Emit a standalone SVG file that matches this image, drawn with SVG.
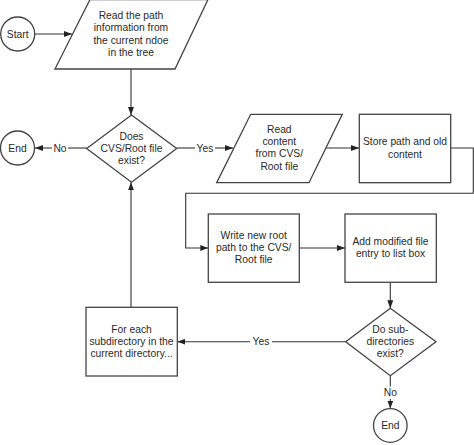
<svg xmlns="http://www.w3.org/2000/svg" width="474" height="445" viewBox="0 0 474 445">
<defs>
<marker id="arr" viewBox="0 0 8 6" refX="8" refY="3" markerWidth="8" markerHeight="6" markerUnits="userSpaceOnUse" orient="auto">
<path d="M0,0 L8,3 L0,6 Z" fill="#222"/>
</marker>
</defs>
<style>
.sh{fill:#fff;stroke:#444;stroke-width:1.3}
.ln{fill:none;stroke:#333;stroke-width:1.1}
text{font-family:"Liberation Sans",Arial,sans-serif;font-size:10.3px;fill:#2a2a2a;text-anchor:middle}
</style>
<rect width="474" height="445" fill="#fff"/>
<g id="connectors">
<path class="ln" d="M35,34 H72" marker-end="url(#arr)"/>
<path class="ln" d="M131,69 V115" marker-end="url(#arr)"/>
<path class="ln" d="M86.7,148 H68"/>
<path class="ln" d="M52,148 H35" marker-end="url(#arr)"/>
<path class="ln" d="M176.7,148 H195"/>
<path class="ln" d="M215,148 H233" marker-end="url(#arr)"/>
<path class="ln" d="M325.5,148 H359" marker-end="url(#arr)"/>
<path class="ln" d="M450.7,148 H473.3 V193.3 H185.7 V248 H208.3" marker-end="url(#arr)"/>
<path class="ln" d="M299.3,248 H345" marker-end="url(#arr)"/>
<path class="ln" d="M390.3,282.3 V308.3" marker-end="url(#arr)"/>
<path class="ln" d="M345.7,341.7 H272"/>
<path class="ln" d="M250,341.7 H177.3" marker-end="url(#arr)"/>
<path class="ln" d="M131,307.3 V182.3" marker-end="url(#arr)"/>
<path class="ln" d="M390.3,375.7 V386.5"/>
<path class="ln" d="M390.3,399 V408.5" marker-end="url(#arr)"/>
<text x="60" y="151.5">No</text>
<text x="205" y="151.5">Yes</text>
<text x="261" y="345.2">Yes</text>
<text x="390.3" y="396">No</text>
</g>
<g id="start">
<circle class="sh" cx="17.7" cy="34" r="17"/>
<text x="17.7" y="37.5">Start</text>
</g>
<g id="read-path">
<polygon class="sh" points="90,-0.5 208,-0.5 175,69 55,69"/>
<text x="131" y="19.2">Read the path</text>
<text x="131" y="31.4">information from</text>
<text x="131" y="43.6">the current ndoe</text>
<text x="131" y="55.8">in the tree</text>
</g>
<g id="does-exist">
<polygon class="sh" points="131.5,115 176.7,148.5 131.5,182.3 86.7,148.5"/>
<text x="131.5" y="139.5">Does</text>
<text x="131.5" y="151.5">CVS/Root file</text>
<text x="131.5" y="163.5">exist?</text>
</g>
<g id="end1">
<circle class="sh" cx="17.5" cy="148" r="17"/>
<text x="17.5" y="151.5">End</text>
</g>
<g id="read-content">
<polygon class="sh" points="250.7,114.3 342.3,114.3 309,182.7 216.7,182.7"/>
<text x="279.3" y="132.8">Read</text>
<text x="279.3" y="145.1">content</text>
<text x="279.3" y="157.4">from CVS/</text>
<text x="279.3" y="169.6">Root file</text>
</g>
<g id="store">
<rect class="sh" x="359.3" y="114.3" width="91.4" height="68.4"/>
<text x="405" y="145.2">Store path and old</text>
<text x="405" y="157.5">content</text>
</g>
<g id="write">
<rect class="sh" x="208.3" y="214" width="91" height="68.3"/>
<text x="253.7" y="238.5">Write new root</text>
<text x="253.7" y="250.8">path to the CVS/</text>
<text x="253.7" y="263">Root file</text>
</g>
<g id="add">
<rect class="sh" x="345" y="214" width="91.3" height="68.3"/>
<text x="390.5" y="244.5">Add modified file</text>
<text x="390.5" y="256.8">entry to list box</text>
</g>
<g id="do-sub">
<polygon class="sh" points="390.3,308.3 436,341.7 390.3,375.7 345.7,341.7"/>
<text x="390.3" y="332.8">Do sub-</text>
<text x="390.3" y="344.8">directories</text>
<text x="390.3" y="356.8">exist?</text>
</g>
<g id="for-each">
<rect class="sh" x="86" y="307.3" width="91.3" height="68.7"/>
<text x="131.5" y="332.8">For each</text>
<text x="131.5" y="344.8">subdirectory in the</text>
<text x="131.5" y="356.8">current directory...</text>
</g>
<g id="end2">
<circle class="sh" cx="390.3" cy="425.5" r="16.8"/>
<text x="390.3" y="429">End</text>
</g>
</svg>
